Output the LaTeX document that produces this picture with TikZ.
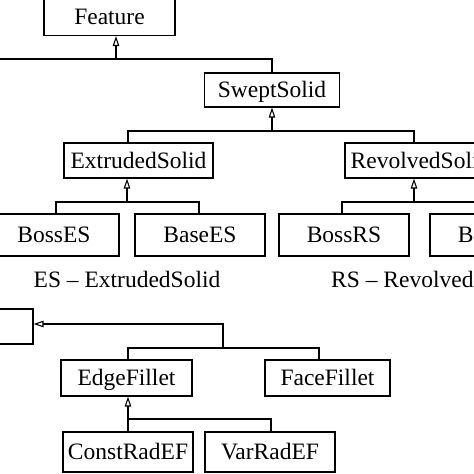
\documentclass[tikz,border=0pt]{standalone}
\usepackage{fontspec}
\setmainfont{Liberation Serif}
\usetikzlibrary{arrows.meta}
\tikzset{
  cls/.style={draw, line width=1.1pt, inner sep=0pt, minimum width=130pt, text height=15.6pt, text depth=0pt,
    font=\fontsize{23.5}{28}\selectfont},
  wire/.style={line width=1.1pt},
  inh/.style={line width=1.1pt, -{Triangle[open, length=10pt, width=6.5pt]}},
  note/.style={inner sep=0pt, text height=15.6pt, text depth=0pt, font=\fontsize{23.5}{28}\selectfont}
}
\begin{document}
\begin{tikzpicture}[x=1pt,y=-1pt]
\useasboundingbox (0,0) rectangle (474,474);
\clip (0,0) rectangle (474,474);
% class boxes
\node[cls, minimum width=131pt, minimum height=37pt] (feat) at (109.5,17) {Feature};
\node[cls, minimum width=135pt, minimum height=34pt] (sw) at (272,90) {SweptSolid};
\node[cls, minimum width=149pt, minimum height=35pt] (ext) at (138.5,160.5) {ExtrudedSolid};
\node[cls, minimum width=151pt, minimum height=35pt] (rev) at (420.5,160.5) {RevolvedSolid};
\node[cls, minimum height=42pt] (bes) at (54,235) {BossES};
\node[cls, minimum height=42pt] (baes) at (200,235) {BaseES};
\node[cls, minimum height=42pt] (brs) at (344,235) {BossRS};
\node[cls, minimum height=42pt] (bars) at (495,235) {BaseRS};
\node[note] (esn) at (127,280) {ES – ExtrudedSolid};
\node[note, anchor=west] (rsn) at (331,280) {RS – RevolvedSolid};
\node[cls, minimum height=35pt] (fil) at (-32,326.5) {};
\node[cls, minimum width=131pt, minimum height=36pt] (edge) at (126.5,378) {EdgeFillet};
\node[cls, minimum width=125pt, minimum height=36pt] (face) at (327.5,378) {FaceFillet};
\node[cls, minimum height=40pt] (cons) at (128,452) {ConstRadEF};
\node[cls, minimum height=40pt] (var) at (270,452) {VarRadEF};
% connectors
\coordinate (j1) at (116,59);
\coordinate (l1) at (-20,59);
\draw[inh] (j1) -- (j1 |- feat.south);
\draw[wire] (l1) -- (sw.north |- l1) -- (sw.north);
\coordinate (j2) at (272,131);
\coordinate (j2l) at (128,131);
\coordinate (j2r) at (414,131);
\draw[inh] (j2) -- (sw.south);
\draw[wire] (j2l |- ext.north) -- (j2l) -- (j2r) -- (j2r |- rev.north);
\coordinate (j3) at (127,202);
\coordinate (j3l) at (56,202);
\coordinate (j3r) at (199,202);
\draw[inh] (j3) -- (j3 |- ext.south);
\draw[wire] (j3l |- bes.north) -- (j3l) -- (j3r) -- (j3r |- baes.north);
\coordinate (j4) at (414,202);
\coordinate (j4l) at (342,202);
\coordinate (j4r) at (486,202);
\draw[inh] (j4) -- (j4 |- rev.south);
\draw[wire] (j4l |- brs.north) -- (j4l) -- (j4r) -- (j4r |- bars.north);
\coordinate (j5) at (223,348);
\coordinate (k5) at (223,324);
\coordinate (j5l) at (128,348);
\coordinate (j5r) at (319,348);
\draw[inh] (j5) -- (k5) -- (k5 -| fil.east);
\draw[wire] (j5l |- edge.north) -- (j5l) -- (j5r) -- (j5r |- face.north);
\coordinate (j6) at (128,419);
\coordinate (j6r) at (271,419);
\draw[inh] (j6) -- (j6 |- edge.south);
\draw[wire] (cons.north) -- (j6) -- (j6r) -- (j6r |- var.north);
\end{tikzpicture}
\end{document}
